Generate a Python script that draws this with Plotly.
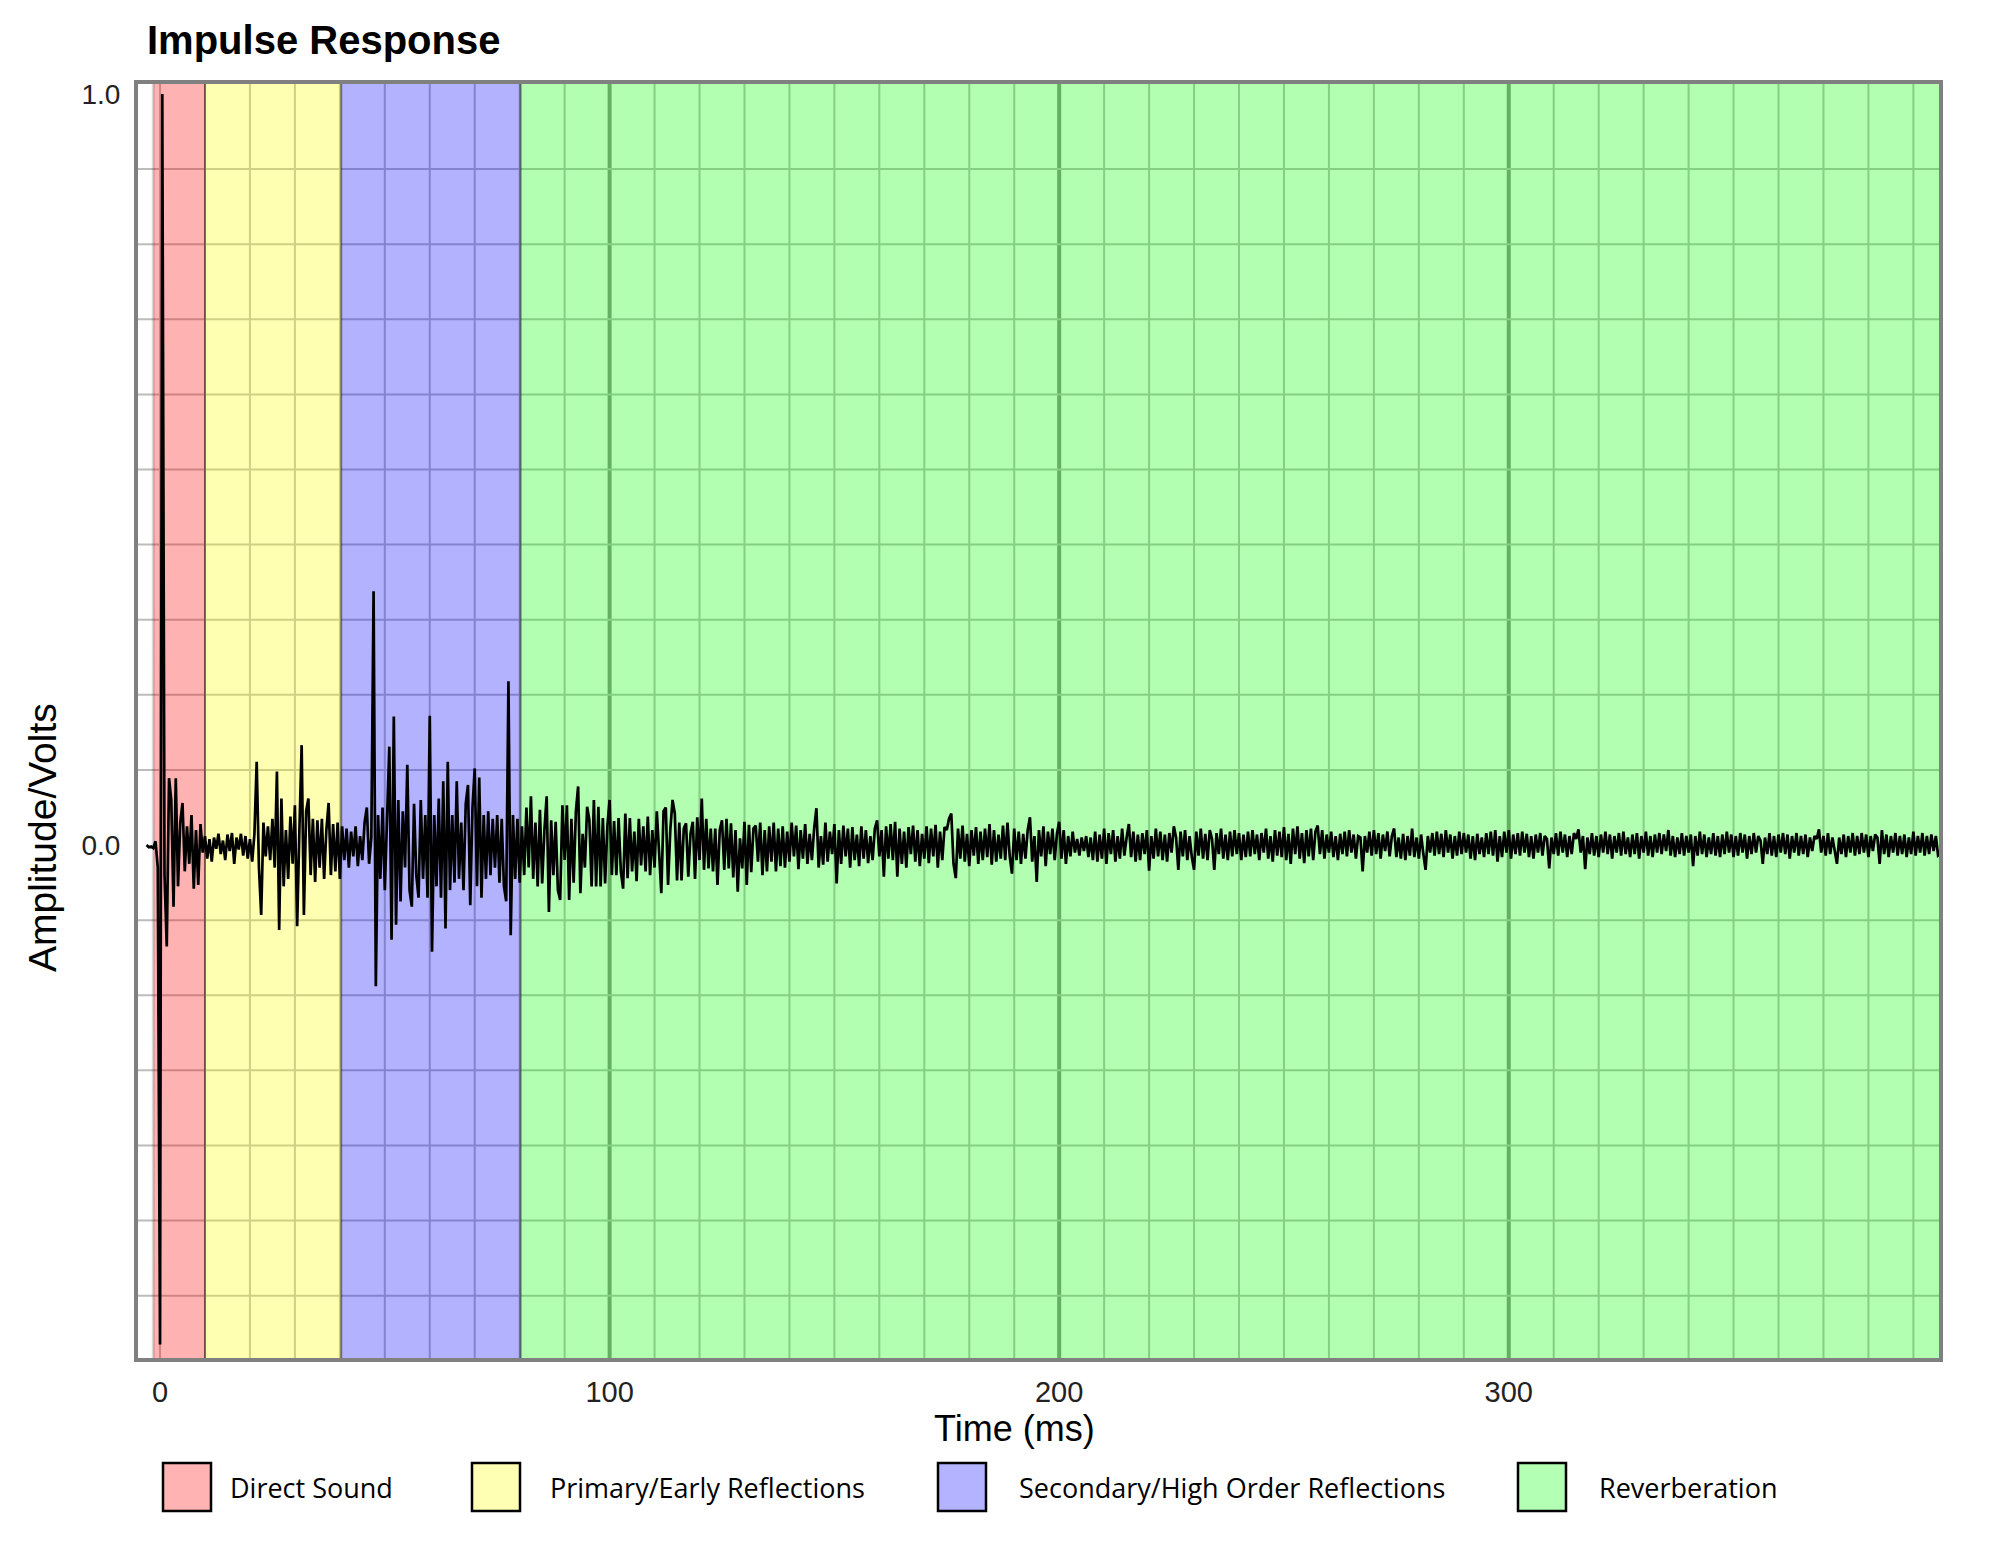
import plotly.graph_objects as go

# ---------------- data ----------------
# waveform samples, amplitude in thousandths of a volt, one sample every 0.5 ms
SAMPLE_STEP_MS = 0.5

direct_start_ms = -3.0
direct_mv = [0, -3, -2, -4, 5, -30, -665, 1000, -40, -135, 89, 60, -82, 89, -55, 30,
             56, -35, 25, -25, 40, -58, 20, -53, 28, -10]

early_start_ms = 10.0
early_mv = [12, -18, 8, -22, 10, -5, 15, -12, 6, -20, 14, -8, 16, -25, 10, -6, 15, -14, 12, -18,
            8, -22, 15, 111, -30, -93, 30, -15, 25, -20, 35, -30, 98, -113, 62, -55, 20, -45, 38, -25,
            53, -108, 20, 133, -93, 45, 62, -40, 35, -49, 33, -30, 35, -45, 20, 56, -40, 28, -35, 30]

secondary_start_ms = 40.0
secondary_mv = [-45, 25, -20, 22, -30, 18, -15, 25, -28, 12, -20, 30, 50, -25, 10, 338, -188, 40, -45, 50,
                -60, 40, 131, -126, 171, -106, 60, -75, 45, -30, 107, -60, -82, 55, -40, -70, 60, -45, 40, -70,
                172, -142, 40, -55, 62, -70, 85, -111, 111, -60, 40, -50, 85, -45, 30, -60, 55, 80, -80, 50,
                102, -55, 90, -70, 40, -45, 45, -40, 35, -30, 40, -50, 35, -55, -75, 218, -120, 40, -45, 35]

reverb_a_start_ms = 80.0
reverb_a_mv = [-50, 25, -40, 50, -30, 65, -45, 30, -55, 47, -51, 20, 65, -89, 33, -40, 31, -60, -73, 53,
               -20, 53, -73, 35, -50, 45, 78, -64, 15, -30, 51, 33, -55, 60, -55, 51, -55, 36, -51, 25,
               60, -40, 32, -40, 36, -35, -58, 42, -44, 36, -35, 18, -48, 35, -27, 25, -35, 38, -40, 20,
               -30, 45, -20, -64, 45, 50, -53, 20, 60, 42, -47, 30, -47, 22, 29, -42, 15, 31, -45, 37,
               -20, 62, -33, 35, -31, 22, -35, 22, -53, 20, 33, -33, 35, -31, 29, -43, 20, -62, 9, -31,
               31, -53, 27, -36, 22, 26, -22, 30, -40, 20, -35, 25, -22, 30, -35, 22]

reverb_b_start_ms = 138.0
reverb_b_mv = [-28, 25, -30, 18, -22, 30, -15, 26, -32, 20, -18, 28, -25, 15, -20, 22, 49, -30, 12, -26,
               30, -22, 18, -12, 28, -51, 20, -25, 26, -15, 22, -30, 24, -20, 14, -28, 25, -18, 20, -24,
               12, -20, 22, 33, -15, 20, -42, 25, -18, 28, -20, 31, -42, 22, -25, 18, -30, 24, -12, 26,
               -22, 20, -28, 15, -18, 25, -24, 22, -15, 27, -30, 18, -20, 24, 20, 35, 42, -25, -44, 22,
               -18, 26, -22, 15, -28, 20, -14, 24, -25, 18, -20, 22, -16, 28, -26, 20, -22, 14, -18, 26,
               -20, 30, -15, -38]

reverb_c_start_ms = 190.0
reverb_c_mv = [22, -20, 18, -25, 15, -18, 20, 37, -22, 12, -49, 20, -15, 25, -28, 18, -12, 22, -20, 15,
               31, -18, 20, -25, 12, -15, 18, -10, 8, -14, 10, -8, 12, -16, 10, -20, 18, -22, 14, -18,
               22, -25, 16, -12, 20, -22, 12, -18, 22, -14, 10, 28, -16, 18, -22, 14, -20, 16, -12, 20,
               -34, 12, -18, 22, -15, 18, -20, 14, -22, 16, -10, 25, 10, -33, 18, -15, 20, -20, 12, -16,
               -33, 18, -14, 22, -18, 15, -20, 20, 8, -33, 16, -12, 22, -18, 14, -20, 18, -15, 20, -12,
               16, -20, 14, -16]

reverb_d_start_ms = 242.0
reverb_d_mv = [18, -15, 20, -12, 14, -20, 16, -10, 22, -18, 12, -22, 20, -14, 18, -16, 24, -20, 15, -25,
               22, -12, 25, -18, 16, -24, 20, -15, 22, -20, 18, 26, -12, 20, -18, 14, -10, 18, -16, 12,
               -20, 15, -12, 18, -15, 20, -10, 14, -18, 12, 10, -35, 12, -10, 18, -14, 20, -12, 16, -18,
               14, -8, 18, -15, 12, 22, -16, 10, -18, 15, -20, 12, -14, 22, -16, 10, -18, 14, -12, -33,
               12, -10, 16, -14, 18, -12, 15, -16, 20, -10, 14, -18, 12, -14, 18, -12, 16, -10, 14, -18,
               12, -20, 15, -12, 10, -16]

reverb_e_start_ms = 295.0
reverb_e_mv = [16, -12, 18, -14, 20, -22, 12, -16, 18, -10, 20, -18, 14, -12, 16, -14, 18, -10, 15, -16,
               12, -18, 14, -10, 16, -14, 12, 8, -31, 10, -12, 16, -14, 18, -10, 14, -16, 12, -12, 16,
               8, 21, -10, 12, -32, 10, -12, 16, -14, 12, -16, 14, -10, 18, -12, 14, -18, 12, -10, 16,
               -14, 18, -12, 10, -16, 14, -12, 16, -18, 12, -10, 18, -14, 12, -16, 14, -10, 16, -12, 14,
               -8, 20, -14, 12, -16, 10, -12, 16, -14, 12, -10, 14, -28, 12, -14, 18, -12, 14, -16, 10,
               -12, 16, -14, 12]

reverb_f_start_ms = 347.0
reverb_f_mv = [-16, 14, -12, 18, -10, 14, -16, 12, -14, 16, -10, 14, -18, 12, -12, 16, -10, 12, 6, -25,
               10, -12, 16, -14, 12, -16, 14, -10, 16, -12, 14, -18, 12, -10, 16, -14, 12, -12, 14, -16,
               10, -8, 12, 8, 21, -10, 12, -14, 16, -12, 10, -8, -25, 10, -12, 14, -16, 12, -10, 16,
               -14, 12, -12, 16, -10, 14, -16, 12, -8, 14, 10, -25, 20, -12, 14, -16, 12, -10, 16, -14,
               12, -12, 14, -16, 10, -12, 18, -14, 12, -10, 16, -14, 12, -12, 14, -8, 12, -14, -12]

segments = [
    (direct_start_ms, direct_mv),
    (early_start_ms, early_mv),
    (secondary_start_ms, secondary_mv),
    (reverb_a_start_ms, reverb_a_mv),
    (reverb_b_start_ms, reverb_b_mv),
    (reverb_c_start_ms, reverb_c_mv),
    (reverb_d_start_ms, reverb_d_mv),
    (reverb_e_start_ms, reverb_e_mv),
    (reverb_f_start_ms, reverb_f_mv),
]

region_names = ["Direct Sound", "Primary/Early Reflections",
                "Secondary/High Order Reflections", "Reverberation"]
region_start_ms = [-1.5, 10.0, 40.3, 80.2]
region_end_ms = [10.0, 40.3, 80.2, 395.7]

x_tick_vals = [0, 100, 200, 300]
y_tick_vals = [0.0, 1.0]
y_tick_text = ["0.0", "1.0"]

# grid spacing (axis units)
X_MINOR_STEP = 10
X_MAJOR_STEP = 100
Y_GRID_STEP_TENTHS = 1   # grid every 0.1 V

# ---------------- styles / layout ----------------
# translucent overlays (pure hue at 30 %) laid over grey grid lines
region_overlay = ["rgba(255,0,0,0.3)", "rgba(255,255,0,0.3)",
                  "rgba(0,0,255,0.3)", "rgba(0,255,0,0.3)"]
legend_fill = ["#ffb3b3", "#ffffb3", "#b3b3ff", "#b3ffb3"]
W, H = 2000, 1545
PL, PR, PT, PB = 138, 1939, 84, 1358   # plot-area pixel box
X_RANGE = [-4.9, 395.7]
Y_RANGE = [-0.683, 1.0133]
GRID_MINOR = "#bcbcbc"
GRID_MAJOR = "#8f8f8f"


def px_x(px):
    return (px - PL) / (PR - PL)


def px_y(py):
    return (PB - py) / (PB - PT)


t_ms, amp = [], []
for start, vals in segments:
    for i, v in enumerate(vals):
        t_ms.append(start + i * SAMPLE_STEP_MS)
        amp.append(v / 1000.0)

fig = go.Figure()
fig.add_trace(go.Scatter(x=t_ms, y=amp, mode="lines",
                         line=dict(color="black", width=2.7),
                         showlegend=False, hoverinfo="skip"))

shapes = []
# grey grid lines first (they sit under the translucent region overlays)
gx = 0
while gx <= X_RANGE[1]:
    major = gx % X_MAJOR_STEP == 0 and gx != 0
    shapes.append(dict(type="line", xref="x", yref="paper", x0=gx, x1=gx, y0=0, y1=1,
                       line=dict(color=GRID_MAJOR if major else GRID_MINOR, width=4 if major else 2),
                       layer="below"))
    gx += X_MINOR_STEP
k = int(Y_RANGE[0] * 10)
while k / 10 <= Y_RANGE[1]:
    if k != 0 and k != 10 and Y_RANGE[0] <= k / 10:
        shapes.append(dict(type="line", xref="paper", yref="y", x0=0, x1=1, y0=k / 10, y1=k / 10,
                           line=dict(color=GRID_MINOR, width=2), layer="below"))
    k += Y_GRID_STEP_TENTHS

for x0, x1, col in zip(region_start_ms, region_end_ms, region_overlay):
    shapes.append(dict(type="rect", xref="x", yref="paper", x0=x0, x1=x1, y0=0, y1=1,
                       fillcolor=col, line=dict(width=0), layer="below"))
# region boundary lines
shapes.append(dict(type="line", xref="x", yref="paper", x0=region_start_ms[0], x1=region_start_ms[0],
                   y0=0, y1=1, line=dict(color="rgba(0,0,0,0.15)", width=3), layer="below"))
for xb in region_start_ms[1:]:
    shapes.append(dict(type="line", xref="x", yref="paper", x0=xb, x1=xb, y0=0, y1=1,
                       line=dict(color="rgba(0,0,0,0.45)", width=2), layer="below"))

# legend boxes + labels
legend_box_left_px = [163, 472, 938, 1518]
legend_text_left_px = [228, 548, 1017, 1597]
annotations = []
for name, col, bx, tx in zip(region_names, legend_fill, legend_box_left_px, legend_text_left_px):
    shapes.append(dict(type="rect", xref="paper", yref="paper",
                       x0=px_x(bx), x1=px_x(bx + 48), y0=px_y(1463), y1=px_y(1511),
                       fillcolor=col, line=dict(color="black", width=2.5), layer="above"))
    annotations.append(dict(text=name, xref="paper", yref="paper", x=px_x(tx), y=px_y(1488),
                            xanchor="left", yanchor="middle", showarrow=False,
                            font=dict(family="Open Sans", size=27, color="black")))

annotations.append(dict(text="Time (ms)", xref="paper", yref="paper", x=px_x(1014), y=px_y(1428),
                        xanchor="center", yanchor="middle", showarrow=False,
                        font=dict(family="Liberation Sans", size=36, color="black")))
annotations.append(dict(text="Amplitude/Volts", xref="paper", yref="paper", x=px_x(42), y=px_y(838),
                        xanchor="center", yanchor="middle", showarrow=False, textangle=-90,
                        font=dict(family="Liberation Sans", size=39, color="black")))

fig.update_layout(
    width=W, height=H,
    margin=dict(l=PL, r=W - PR, t=PT, b=H - PB, pad=0),
    paper_bgcolor="white", plot_bgcolor="white",
    title=dict(text="<b>Impulse Response</b>", x=147 / W, xanchor="left",
               y=1 - 40 / H, yanchor="middle",
               font=dict(family="Liberation Sans", size=40, color="black")),
    shapes=shapes, annotations=annotations,
    xaxis=dict(range=X_RANGE, tickmode="array", tickvals=x_tick_vals,
               ticktext=[str(v) for v in x_tick_vals], ticks="", showgrid=False,
               showline=True, mirror=True, linecolor="#808080", linewidth=4,
               zeroline=False, ticklabelstandoff=5,
               tickfont=dict(family="Liberation Sans", size=29, color="#222")),
    yaxis=dict(range=Y_RANGE, tickmode="array", tickvals=y_tick_vals, ticktext=y_tick_text,
               ticks="", showgrid=False,
               showline=True, mirror=True, linecolor="#808080", linewidth=4,
               zeroline=False, ticklabelstandoff=8,
               tickfont=dict(family="Liberation Sans", size=28, color="#222")),
)

fig.write_html("out.html")
